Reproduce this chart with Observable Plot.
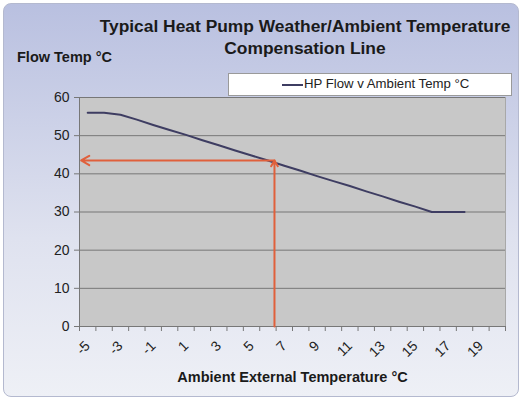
<!DOCTYPE html>
<html>
<head>
<meta charset="utf-8">
<script src="https://cdn.jsdelivr.net/npm/d3@7"></script>
<script src="https://cdn.jsdelivr.net/npm/@observablehq/plot@0.6"></script>
<style>
  body { margin: 0; font-family: "Liberation Sans", Arial, sans-serif; }
  #wrap { position: relative; width: 522px; height: 400px; overflow: hidden; background: #fff; }
  #panel { position: absolute; left: 3px; top: 3px; width: 514px; height: 392px; border-radius: 8px;
           border: 1px solid #b4b9cf; background: linear-gradient(#b9c0e0, #dfe2ef 60%, #eef0f6); }
  .t { position: absolute; font-weight: bold; color: #1a1a1a; white-space: nowrap; }
  #title { left: 96px; width: 418px; top: 15px; text-align: center; font-size: 17.4px; line-height: 22px; }
  #ylab { left: 17px; top: 49px; font-size: 14.5px; }
  #xlab { left: 80px; width: 425px; top: 369px; text-align: center; font-size: 14.5px; }
  #legend { position: absolute; left: 228px; top: 73px; width: 282px; height: 21px; background: #fff;
            border: 1px solid #9a9a9a; font-size: 13.2px; color: #222; }
  #legend .sw { position: absolute; left: 53px; top: 10px; width: 21px; border-top: 2px solid #3e3d62; }
  #legend .lt { position: absolute; left: 75px; top: 2px; }
  #chart { position: absolute; left: 0; top: 0; }
</style>
</head>
<body>
<div id="wrap">
  <div id="panel"></div>
  <div id="chart"></div>
  <div class="t" id="title">Typical Heat Pump Weather/Ambient Temperature<br>Compensation Line</div>
  <div class="t" id="ylab">Flow Temp °C</div>
  <div class="t" id="xlab">Ambient External Temperature °C</div>
  <div id="legend"><span class="sw"></span><span class="lt">HP Flow v Ambient Temp °C</span></div>
</div>
<script>
// ambient temperature (°C) and flow temperature (°C)
const ambient = [-5, -4, -3, -2, -1, 0, 1, 2, 3, 4, 5, 6, 7, 8, 9, 10, 11, 12, 13, 14, 15, 16, 17, 18];
const flow = [56, 56, 55.5, 54.2, 52.8, 51.5, 50.2, 48.8, 47.5, 46.1, 44.8, 43.5, 42.1, 40.8, 39.4, 38.1, 36.8, 35.4, 34.1, 32.7, 31.4, 30, 30, 30];
const xLabels = [-5, -3, -1, 1, 3, 5, 7, 9, 11, 13, 15, 17, 19];
const yTicks = [0, 10, 20, 30, 40, 50, 60];
// category boundaries for the small tick marks
const xBounds = d3.range(-5.5, 21, 1);
// the reading shown by the red arrows
const readAmbient = 6.4;
const readFlow = 43.5;

const data = ambient.map((a, i) => ({ambient: a, flow: flow[i]}));

const chart = Plot.plot({
  width: 522,
  height: 400,
  marginLeft: 79,
  marginRight: 17,
  marginTop: 97,
  marginBottom: 74,
  style: {background: "transparent", fontFamily: "Liberation Sans, Arial, sans-serif", fontSize: "14px", color: "#222"},
  x: {domain: [-5.5, 20.5]},
  y: {domain: [0, 60]},
  marks: [
    Plot.frame({fill: "#c8c8c8", stroke: "#a8a8a8"}),
    Plot.ruleY(yTicks.slice(1), {stroke: "#777", strokeWidth: 1}),
    Plot.ruleY([0], {stroke: "#777"}),
    Plot.ruleX([-5.5], {stroke: "#777"}),
    Plot.axisY({ticks: yTicks, tickSize: 5, tickPadding: 5, label: null, fontSize: 14, stroke: "#777"}),
    Plot.axisX({ticks: xBounds, tickSize: 5, tickFormat: () => "", label: null, stroke: "#777"}),
    Plot.axisX({ticks: xLabels, tickSize: 0, tickPadding: 17, tickRotate: -45, tickFormat: d => String(d), label: null, fontSize: 14}),
    Plot.line(data, {x: "ambient", y: "flow", stroke: "#3e3d62", strokeWidth: 2}),
    Plot.arrow([{x: readAmbient, y1: 0, y2: readFlow}], {x1: "x", x2: "x", y1: "y1", y2: "y2", stroke: "#e0603c", strokeWidth: 2, headLength: 5}),
    Plot.arrow([{x1: readAmbient, x2: -5.4, y: readFlow}], {x1: "x1", x2: "x2", y1: "y", y2: "y", stroke: "#e0603c", strokeWidth: 2, headLength: 7})
  ]
});
document.querySelector("#chart").append(chart);
</script>
</body>
</html>
